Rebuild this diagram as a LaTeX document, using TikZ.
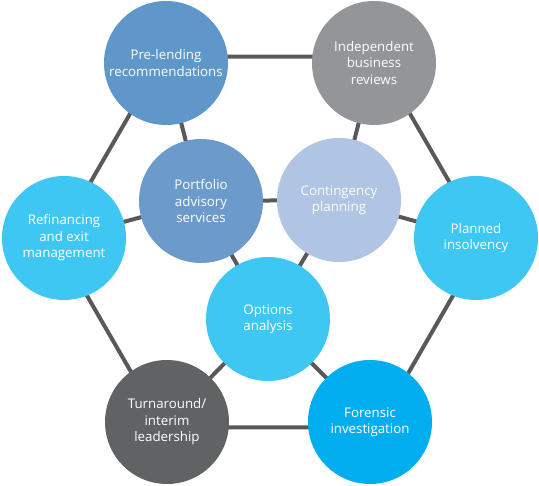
\documentclass[tikz,border=0pt]{standalone}
\usepackage{fontspec}
\setmainfont{Open Sans}
\usetikzlibrary{calc,backgrounds}
\definecolor{cPre}{HTML}{6097CA}
\definecolor{cPor}{HTML}{6C9BCB}
\definecolor{cInd}{HTML}{939598}
\definecolor{cCon}{HTML}{B0C4E3}
\definecolor{cCyan}{HTML}{3FC7F4}
\definecolor{cFor}{HTML}{00AEEF}
\definecolor{cTur}{HTML}{616264}
\definecolor{cLine}{HTML}{58595B}
\tikzset{
  bubble/.style={circle, minimum size=124pt, inner sep=0pt, align=center,
    text=white, font=\fontsize{13.3}{16.5}\selectfont,
    execute at begin node={\rule{0pt}{14pt}}},
  link/.style={draw=cLine, line width=4pt}
}
\begin{document}
\begin{tikzpicture}[x=1pt, y=-1pt]
\useasboundingbox (0,0) rectangle (539,486);
% hexagon frame corners
\coordinate (h0) at (484,242);
\coordinate (h1) at (377,56.7);
\coordinate (h2) at (163,56.7);
\coordinate (h3) at (56,242);
\coordinate (h4) at (163,427.3);
\coordinate (h5) at (377,427.3);
% nodes
\node[bubble, fill=cPre] (pre) at (166,63) {Pre-lending\\recommendations};
\node[bubble, fill=cInd] (ind) at (374,63) {Independent\\business\\reviews};
\node[bubble, fill=cCyan] (ref) at (64,238) {Refinancing\\and exit\\management};
\node[bubble, fill=cCyan] (pla) at (476,238) {Planned\\insolvency};
\node[bubble, fill=cTur] (tur) at (167,422) {Turnaround/\\interim\\leadership};
\node[bubble, fill=cFor] (for) at (370,422) {Forensic\\investigation};
\node[bubble, fill=cPor] (por) at (201,201) {Portfolio\\advisory\\services};
\node[bubble, fill=cCon] (con) at (339,200) {Contingency\\planning};
\node[bubble, fill=cCyan] (opt) at (268,319) {Options\\analysis};
% connectors behind nodes
\begin{scope}[on background layer]
  \draw[link] (h0) -- (h1) -- (h2) -- (h3) -- (h4) -- (h5) -- cycle;
  \draw[link] (pre.center) -- (por.center);
  \draw[link] (ind.center) -- (con.center);
  \draw[link] (ref.center) -- (por.center);
  \draw[link] (pla.center) -- (con.center);
  \draw[link] (tur.center) -- (opt.center);
  \draw[link] (for.center) -- (opt.center);
  \draw[link] (por.center) -- (con.center);
  \draw[link] (por.center) -- (opt.center);
  \draw[link] (con.center) -- (opt.center);
\end{scope}
\end{tikzpicture}
\end{document}
